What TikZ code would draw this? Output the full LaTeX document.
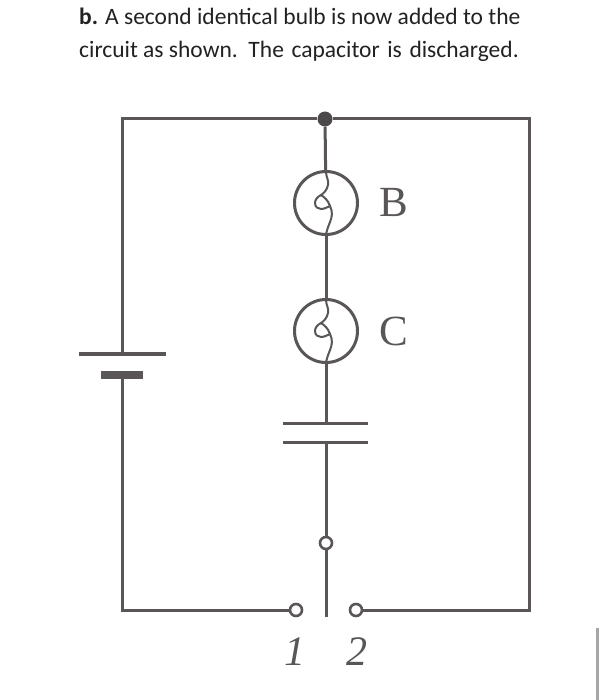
\documentclass[tikz,border=0pt]{standalone}
\usepackage{fontspec}
\setmainfont{Carlito}
\newfontfamily\serifcirc{Liberation Serif}
\definecolor{wirec}{HTML}{5A5658}
\definecolor{headc}{HTML}{222222}
\tikzset{
  wire/.style={draw=wirec,line width=3pt},
  bulb/.style={circle,draw=wirec,line width=3pt,minimum size=63pt,inner sep=0pt},
  terminal/.style={circle,draw=wirec,line width=2.6pt,fill=white,minimum size=12pt,inner sep=0pt},
  junction/.style={circle,fill=wirec!85!black,minimum size=15pt,inner sep=0pt},
  heading/.style={anchor=base west,inner sep=0pt,text=headc,font=\fontsize{23.5pt}{30pt}\selectfont},
  complabel/.style={inner sep=0pt,text=wirec,font=\serifcirc\fontsize{43pt}{46pt}\selectfont},
  poslabel/.style={inner sep=0pt,text=wirec,font=\serifcirc\itshape\fontsize{42pt}{46pt}\selectfont},
  filament/.pic={
    \draw[draw=wirec,line width=2pt,line cap=round]
      (0,-31) .. controls (0,-26) and (3,-23) .. (2,-18)
      .. controls (1,-13) and (-2,-10) .. (-5,-8)
      .. controls (-9,-6) and (-11,-3) .. (-11,0)
      .. controls (-11,4) and (-8,6) .. (-5,6)
      .. controls (-1,6) and (1,4) .. (4,3)
      .. controls (7,9) and (6,14) .. (4,19)
      .. controls (2,24) and (1,27) .. (0,31);
    \draw[draw=wirec,line width=2pt,line cap=round]
      (-5,-8) .. controls (-2,-6) and (2,-3) .. (4,3);
  }
}
\begin{document}
\begin{tikzpicture}[x=1pt,y=-1pt]
\useasboundingbox[fill=white] (0,0) rectangle (605,700);
\node[heading] (line1) at (79,24.5) {\textbf{b.} A second identical bulb is now added to the};
\node[heading] (line2) at (79,58) {circuit as shown.\ \ The\hspace{2.3pt} capacitor\hspace{2.3pt} is\hspace{2.3pt} discharged.};

\coordinate (tl) at (122,119);
\coordinate (tr) at (529,119);
\coordinate (bl) at (122,610);
\coordinate (br) at (529,610);
\node[junction] (top) at (325,119) {};
\node[bulb] (bulbB) at (326,203) {};
\node[bulb] (bulbC) at (326,331) {};
\node[terminal] (pivot) at (326,543) {};
\node[terminal] (t1) at (296,610) {};
\node[terminal] (t2) at (356,610) {};
\coordinate (blade) at (326,617);
\coordinate (batL) at (79,354);
\coordinate (batR) at (166,354);
\coordinate (batSL) at (101,375);
\coordinate (batSR) at (143,375);
\coordinate (batPos) at (122,354);
\coordinate (batNeg) at (122,375);
\coordinate (capAL) at (283,423);
\coordinate (capAR) at (368,423);
\coordinate (capBL) at (283,442);
\coordinate (capBR) at (368,442);
\coordinate (capA) at (326,423);
\coordinate (capB) at (326,442);

\draw[wire] (batPos) -- (tl) -- (top) -- (tr) -- (br) -- (t2);
\draw[wire] (batNeg) -- (bl) -- (t1);
\draw[wire] (top) -- (bulbB);
\draw[wire] (bulbB) -- (bulbC);
\draw[wire] (bulbC) -- (capA);
\draw[wire] (capB) -- (pivot);
\draw[wire] (pivot) -- (blade);
\draw[draw=wirec,line width=3.4pt] (batL) -- (batR);
\draw[draw=wirec,line width=8.5pt] (batSL) -- (batSR);
\draw[draw=wirec,line width=3pt] (capAL) -- (capAR);
\draw[draw=wirec,line width=3pt] (capBL) -- (capBR);
\pic at (bulbB) {filament};
\pic at (bulbC) {filament};

\node[complabel] (labB) at (394,202) {B};
\node[complabel] (labC) at (394,331) {C};
\node[poslabel] (lab1) at (295,652) {1};
\node[poslabel] (lab2) at (357,652) {2};

\coordinate (barT) at (597.5,628);
\coordinate (barB) at (597.5,700);
\draw[draw=black!35,line width=3.5pt] (barT) -- (barB);
\end{tikzpicture}
\end{document}
